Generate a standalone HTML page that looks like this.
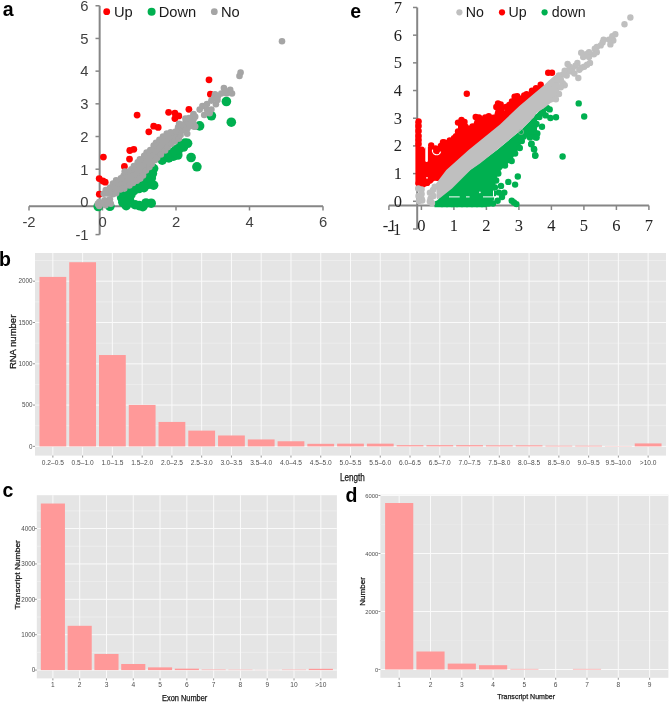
<!DOCTYPE html>
<html><head><meta charset="utf-8"><style>
html,body{margin:0;padding:0;background:#fff;width:669px;height:702px;overflow:hidden}
svg{display:block;font-family:'Liberation Sans', Arial, sans-serif}
</style></head><body>
<svg width="669" height="702" viewBox="0 0 669 702">
<rect x="35" y="253" width="631.00" height="202.60" fill="#E5E5E5"/>
<line x1="35" x2="666" y1="425.74" y2="425.74" stroke="#F2F2F2" stroke-width="0.6"/>
<line x1="35" x2="666" y1="384.45" y2="384.45" stroke="#F2F2F2" stroke-width="0.6"/>
<line x1="35" x2="666" y1="343.15" y2="343.15" stroke="#F2F2F2" stroke-width="0.6"/>
<line x1="35" x2="666" y1="301.85" y2="301.85" stroke="#F2F2F2" stroke-width="0.6"/>
<line x1="35" x2="666" y1="260.56" y2="260.56" stroke="#F2F2F2" stroke-width="0.6"/>
<line x1="35" x2="666" y1="446.39" y2="446.39" stroke="#FAFAFA" stroke-width="1"/>
<line x1="35" x2="666" y1="405.09" y2="405.09" stroke="#FAFAFA" stroke-width="1"/>
<line x1="35" x2="666" y1="363.80" y2="363.80" stroke="#FAFAFA" stroke-width="1"/>
<line x1="35" x2="666" y1="322.50" y2="322.50" stroke="#FAFAFA" stroke-width="1"/>
<line x1="35" x2="666" y1="281.21" y2="281.21" stroke="#FAFAFA" stroke-width="1"/>
<line x1="52.86" x2="52.86" y1="253" y2="455.6" stroke="#FAFAFA" stroke-width="1"/>
<line x1="82.62" x2="82.62" y1="253" y2="455.6" stroke="#FAFAFA" stroke-width="1"/>
<line x1="112.39" x2="112.39" y1="253" y2="455.6" stroke="#FAFAFA" stroke-width="1"/>
<line x1="142.15" x2="142.15" y1="253" y2="455.6" stroke="#FAFAFA" stroke-width="1"/>
<line x1="171.92" x2="171.92" y1="253" y2="455.6" stroke="#FAFAFA" stroke-width="1"/>
<line x1="201.68" x2="201.68" y1="253" y2="455.6" stroke="#FAFAFA" stroke-width="1"/>
<line x1="231.44" x2="231.44" y1="253" y2="455.6" stroke="#FAFAFA" stroke-width="1"/>
<line x1="261.21" x2="261.21" y1="253" y2="455.6" stroke="#FAFAFA" stroke-width="1"/>
<line x1="290.97" x2="290.97" y1="253" y2="455.6" stroke="#FAFAFA" stroke-width="1"/>
<line x1="320.74" x2="320.74" y1="253" y2="455.6" stroke="#FAFAFA" stroke-width="1"/>
<line x1="350.50" x2="350.50" y1="253" y2="455.6" stroke="#FAFAFA" stroke-width="1"/>
<line x1="380.26" x2="380.26" y1="253" y2="455.6" stroke="#FAFAFA" stroke-width="1"/>
<line x1="410.03" x2="410.03" y1="253" y2="455.6" stroke="#FAFAFA" stroke-width="1"/>
<line x1="439.79" x2="439.79" y1="253" y2="455.6" stroke="#FAFAFA" stroke-width="1"/>
<line x1="469.56" x2="469.56" y1="253" y2="455.6" stroke="#FAFAFA" stroke-width="1"/>
<line x1="499.32" x2="499.32" y1="253" y2="455.6" stroke="#FAFAFA" stroke-width="1"/>
<line x1="529.08" x2="529.08" y1="253" y2="455.6" stroke="#FAFAFA" stroke-width="1"/>
<line x1="558.85" x2="558.85" y1="253" y2="455.6" stroke="#FAFAFA" stroke-width="1"/>
<line x1="588.61" x2="588.61" y1="253" y2="455.6" stroke="#FAFAFA" stroke-width="1"/>
<line x1="618.38" x2="618.38" y1="253" y2="455.6" stroke="#FAFAFA" stroke-width="1"/>
<line x1="648.14" x2="648.14" y1="253" y2="455.6" stroke="#FAFAFA" stroke-width="1"/>
<rect x="39.46" y="276.91" width="26.79" height="169.48" fill="#FF9999"/>
<rect x="69.23" y="262.21" width="26.79" height="184.18" fill="#FF9999"/>
<rect x="98.99" y="355.04" width="26.79" height="91.35" fill="#FF9999"/>
<rect x="128.76" y="404.93" width="26.79" height="41.46" fill="#FF9999"/>
<rect x="158.52" y="421.94" width="26.79" height="24.45" fill="#FF9999"/>
<rect x="188.29" y="430.62" width="26.79" height="15.78" fill="#FF9999"/>
<rect x="218.05" y="435.49" width="26.79" height="10.90" fill="#FF9999"/>
<rect x="247.81" y="439.45" width="26.79" height="6.94" fill="#FF9999"/>
<rect x="277.58" y="441.27" width="26.79" height="5.12" fill="#FF9999"/>
<rect x="307.34" y="443.83" width="26.79" height="2.56" fill="#FF9999"/>
<rect x="337.11" y="443.67" width="26.79" height="2.73" fill="#FF9999"/>
<rect x="366.87" y="443.67" width="26.79" height="2.73" fill="#FF9999"/>
<rect x="396.63" y="445.15" width="26.79" height="1.24" fill="#FF9999"/>
<rect x="426.40" y="445.15" width="26.79" height="1.24" fill="#FF9999"/>
<rect x="456.16" y="445.15" width="26.79" height="1.24" fill="#FF9999"/>
<rect x="485.93" y="445.32" width="26.79" height="1.07" fill="#FF9999"/>
<rect x="515.69" y="445.32" width="26.79" height="1.07" fill="#FF9999"/>
<rect x="545.46" y="445.73" width="26.79" height="0.66" fill="#FF9999"/>
<rect x="575.22" y="445.73" width="26.79" height="0.66" fill="#FF9999"/>
<rect x="604.98" y="446.14" width="26.79" height="0.25" fill="#FF9999"/>
<rect x="634.75" y="443.42" width="26.79" height="2.97" fill="#FF9999"/>
<line x1="33" x2="35" y1="446.39" y2="446.39" stroke="#4d4d4d" stroke-width="0.6"/>
<text x="32.40" y="448.59" font-size="6.3" fill="#4d4d4d" text-anchor="end">0</text>
<line x1="33" x2="35" y1="405.09" y2="405.09" stroke="#4d4d4d" stroke-width="0.6"/>
<text x="32.40" y="407.29" font-size="6.3" fill="#4d4d4d" text-anchor="end">500</text>
<line x1="33" x2="35" y1="363.80" y2="363.80" stroke="#4d4d4d" stroke-width="0.6"/>
<text x="32.40" y="366.00" font-size="6.3" fill="#4d4d4d" text-anchor="end">1000</text>
<line x1="33" x2="35" y1="322.50" y2="322.50" stroke="#4d4d4d" stroke-width="0.6"/>
<text x="32.40" y="324.70" font-size="6.3" fill="#4d4d4d" text-anchor="end">1500</text>
<line x1="33" x2="35" y1="281.21" y2="281.21" stroke="#4d4d4d" stroke-width="0.6"/>
<text x="32.40" y="283.41" font-size="6.3" fill="#4d4d4d" text-anchor="end">2000</text>
<line x1="52.86" x2="52.86" y1="455.6" y2="457.6" stroke="#4d4d4d" stroke-width="0.6"/>
<text x="52.86" y="464.60" font-size="6.6" fill="#4d4d4d" text-anchor="middle">0.2&#8211;0.5</text>
<line x1="82.62" x2="82.62" y1="455.6" y2="457.6" stroke="#4d4d4d" stroke-width="0.6"/>
<text x="82.62" y="464.60" font-size="6.6" fill="#4d4d4d" text-anchor="middle">0.5&#8211;1.0</text>
<line x1="112.39" x2="112.39" y1="455.6" y2="457.6" stroke="#4d4d4d" stroke-width="0.6"/>
<text x="112.39" y="464.60" font-size="6.6" fill="#4d4d4d" text-anchor="middle">1.0&#8211;1.5</text>
<line x1="142.15" x2="142.15" y1="455.6" y2="457.6" stroke="#4d4d4d" stroke-width="0.6"/>
<text x="142.15" y="464.60" font-size="6.6" fill="#4d4d4d" text-anchor="middle">1.5&#8211;2.0</text>
<line x1="171.92" x2="171.92" y1="455.6" y2="457.6" stroke="#4d4d4d" stroke-width="0.6"/>
<text x="171.92" y="464.60" font-size="6.6" fill="#4d4d4d" text-anchor="middle">2.0&#8211;2.5</text>
<line x1="201.68" x2="201.68" y1="455.6" y2="457.6" stroke="#4d4d4d" stroke-width="0.6"/>
<text x="201.68" y="464.60" font-size="6.6" fill="#4d4d4d" text-anchor="middle">2.5&#8211;3.0</text>
<line x1="231.44" x2="231.44" y1="455.6" y2="457.6" stroke="#4d4d4d" stroke-width="0.6"/>
<text x="231.44" y="464.60" font-size="6.6" fill="#4d4d4d" text-anchor="middle">3.0&#8211;3.5</text>
<line x1="261.21" x2="261.21" y1="455.6" y2="457.6" stroke="#4d4d4d" stroke-width="0.6"/>
<text x="261.21" y="464.60" font-size="6.6" fill="#4d4d4d" text-anchor="middle">3.5&#8211;4.0</text>
<line x1="290.97" x2="290.97" y1="455.6" y2="457.6" stroke="#4d4d4d" stroke-width="0.6"/>
<text x="290.97" y="464.60" font-size="6.6" fill="#4d4d4d" text-anchor="middle">4.0&#8211;4.5</text>
<line x1="320.74" x2="320.74" y1="455.6" y2="457.6" stroke="#4d4d4d" stroke-width="0.6"/>
<text x="320.74" y="464.60" font-size="6.6" fill="#4d4d4d" text-anchor="middle">4.5&#8211;5.0</text>
<line x1="350.50" x2="350.50" y1="455.6" y2="457.6" stroke="#4d4d4d" stroke-width="0.6"/>
<text x="350.50" y="464.60" font-size="6.6" fill="#4d4d4d" text-anchor="middle">5.0&#8211;5.5</text>
<line x1="380.26" x2="380.26" y1="455.6" y2="457.6" stroke="#4d4d4d" stroke-width="0.6"/>
<text x="380.26" y="464.60" font-size="6.6" fill="#4d4d4d" text-anchor="middle">5.5&#8211;6.0</text>
<line x1="410.03" x2="410.03" y1="455.6" y2="457.6" stroke="#4d4d4d" stroke-width="0.6"/>
<text x="410.03" y="464.60" font-size="6.6" fill="#4d4d4d" text-anchor="middle">6.0&#8211;6.5</text>
<line x1="439.79" x2="439.79" y1="455.6" y2="457.6" stroke="#4d4d4d" stroke-width="0.6"/>
<text x="439.79" y="464.60" font-size="6.6" fill="#4d4d4d" text-anchor="middle">6.5&#8211;7.0</text>
<line x1="469.56" x2="469.56" y1="455.6" y2="457.6" stroke="#4d4d4d" stroke-width="0.6"/>
<text x="469.56" y="464.60" font-size="6.6" fill="#4d4d4d" text-anchor="middle">7.0&#8211;7.5</text>
<line x1="499.32" x2="499.32" y1="455.6" y2="457.6" stroke="#4d4d4d" stroke-width="0.6"/>
<text x="499.32" y="464.60" font-size="6.6" fill="#4d4d4d" text-anchor="middle">7.5&#8211;8.0</text>
<line x1="529.08" x2="529.08" y1="455.6" y2="457.6" stroke="#4d4d4d" stroke-width="0.6"/>
<text x="529.08" y="464.60" font-size="6.6" fill="#4d4d4d" text-anchor="middle">8.0&#8211;8.5</text>
<line x1="558.85" x2="558.85" y1="455.6" y2="457.6" stroke="#4d4d4d" stroke-width="0.6"/>
<text x="558.85" y="464.60" font-size="6.6" fill="#4d4d4d" text-anchor="middle">8.5&#8211;9.0</text>
<line x1="588.61" x2="588.61" y1="455.6" y2="457.6" stroke="#4d4d4d" stroke-width="0.6"/>
<text x="588.61" y="464.60" font-size="6.6" fill="#4d4d4d" text-anchor="middle">9.0&#8211;9.5</text>
<line x1="618.38" x2="618.38" y1="455.6" y2="457.6" stroke="#4d4d4d" stroke-width="0.6"/>
<text x="618.38" y="464.60" font-size="6.6" fill="#4d4d4d" text-anchor="middle">9.5&#8211;10.0</text>
<line x1="648.14" x2="648.14" y1="455.6" y2="457.6" stroke="#4d4d4d" stroke-width="0.6"/>
<text x="648.14" y="464.60" font-size="6.6" fill="#4d4d4d" text-anchor="middle">&gt;10.0</text>
<rect x="36.8" y="495.2" width="300.10" height="183.20" fill="#E5E5E5"/>
<line x1="36.8" x2="336.9" y1="652.38" y2="652.38" stroke="#F2F2F2" stroke-width="0.6"/>
<line x1="36.8" x2="336.9" y1="617.00" y2="617.00" stroke="#F2F2F2" stroke-width="0.6"/>
<line x1="36.8" x2="336.9" y1="581.62" y2="581.62" stroke="#F2F2F2" stroke-width="0.6"/>
<line x1="36.8" x2="336.9" y1="546.23" y2="546.23" stroke="#F2F2F2" stroke-width="0.6"/>
<line x1="36.8" x2="336.9" y1="510.85" y2="510.85" stroke="#F2F2F2" stroke-width="0.6"/>
<line x1="36.8" x2="336.9" y1="670.07" y2="670.07" stroke="#FAFAFA" stroke-width="1"/>
<line x1="36.8" x2="336.9" y1="634.69" y2="634.69" stroke="#FAFAFA" stroke-width="1"/>
<line x1="36.8" x2="336.9" y1="599.31" y2="599.31" stroke="#FAFAFA" stroke-width="1"/>
<line x1="36.8" x2="336.9" y1="563.93" y2="563.93" stroke="#FAFAFA" stroke-width="1"/>
<line x1="36.8" x2="336.9" y1="528.54" y2="528.54" stroke="#FAFAFA" stroke-width="1"/>
<line x1="52.88" x2="52.88" y1="495.2" y2="678.4" stroke="#FAFAFA" stroke-width="1"/>
<line x1="79.67" x2="79.67" y1="495.2" y2="678.4" stroke="#FAFAFA" stroke-width="1"/>
<line x1="106.47" x2="106.47" y1="495.2" y2="678.4" stroke="#FAFAFA" stroke-width="1"/>
<line x1="133.26" x2="133.26" y1="495.2" y2="678.4" stroke="#FAFAFA" stroke-width="1"/>
<line x1="160.06" x2="160.06" y1="495.2" y2="678.4" stroke="#FAFAFA" stroke-width="1"/>
<line x1="186.85" x2="186.85" y1="495.2" y2="678.4" stroke="#FAFAFA" stroke-width="1"/>
<line x1="213.64" x2="213.64" y1="495.2" y2="678.4" stroke="#FAFAFA" stroke-width="1"/>
<line x1="240.44" x2="240.44" y1="495.2" y2="678.4" stroke="#FAFAFA" stroke-width="1"/>
<line x1="267.23" x2="267.23" y1="495.2" y2="678.4" stroke="#FAFAFA" stroke-width="1"/>
<line x1="294.03" x2="294.03" y1="495.2" y2="678.4" stroke="#FAFAFA" stroke-width="1"/>
<line x1="320.82" x2="320.82" y1="495.2" y2="678.4" stroke="#FAFAFA" stroke-width="1"/>
<rect x="40.82" y="503.53" width="24.12" height="166.55" fill="#FF9999"/>
<rect x="67.61" y="625.81" width="24.12" height="44.26" fill="#FF9999"/>
<rect x="94.41" y="653.94" width="24.12" height="16.13" fill="#FF9999"/>
<rect x="121.20" y="663.99" width="24.12" height="6.09" fill="#FF9999"/>
<rect x="148.00" y="667.38" width="24.12" height="2.69" fill="#FF9999"/>
<rect x="174.79" y="668.66" width="24.12" height="1.42" fill="#FF9999"/>
<rect x="201.59" y="669.58" width="24.12" height="0.50" fill="#FF9999"/>
<rect x="228.38" y="669.72" width="24.12" height="0.35" fill="#FF9999"/>
<rect x="255.18" y="669.93" width="24.12" height="0.14" fill="#FF9999"/>
<rect x="281.97" y="669.65" width="24.12" height="0.42" fill="#FF9999"/>
<rect x="308.77" y="668.83" width="24.12" height="1.24" fill="#FF9999"/>
<line x1="34.8" x2="36.8" y1="670.07" y2="670.07" stroke="#4d4d4d" stroke-width="0.6"/>
<text x="35.30" y="672.27" font-size="6.3" fill="#4d4d4d" text-anchor="end">0</text>
<line x1="34.8" x2="36.8" y1="634.69" y2="634.69" stroke="#4d4d4d" stroke-width="0.6"/>
<text x="35.30" y="636.89" font-size="6.3" fill="#4d4d4d" text-anchor="end">1000</text>
<line x1="34.8" x2="36.8" y1="599.31" y2="599.31" stroke="#4d4d4d" stroke-width="0.6"/>
<text x="35.30" y="601.51" font-size="6.3" fill="#4d4d4d" text-anchor="end">2000</text>
<line x1="34.8" x2="36.8" y1="563.93" y2="563.93" stroke="#4d4d4d" stroke-width="0.6"/>
<text x="35.30" y="566.13" font-size="6.3" fill="#4d4d4d" text-anchor="end">3000</text>
<line x1="34.8" x2="36.8" y1="528.54" y2="528.54" stroke="#4d4d4d" stroke-width="0.6"/>
<text x="35.30" y="530.74" font-size="6.3" fill="#4d4d4d" text-anchor="end">4000</text>
<line x1="52.88" x2="52.88" y1="678.4" y2="680.4" stroke="#4d4d4d" stroke-width="0.6"/>
<text x="52.88" y="687.40" font-size="6.6" fill="#4d4d4d" text-anchor="middle">1</text>
<line x1="79.67" x2="79.67" y1="678.4" y2="680.4" stroke="#4d4d4d" stroke-width="0.6"/>
<text x="79.67" y="687.40" font-size="6.6" fill="#4d4d4d" text-anchor="middle">2</text>
<line x1="106.47" x2="106.47" y1="678.4" y2="680.4" stroke="#4d4d4d" stroke-width="0.6"/>
<text x="106.47" y="687.40" font-size="6.6" fill="#4d4d4d" text-anchor="middle">3</text>
<line x1="133.26" x2="133.26" y1="678.4" y2="680.4" stroke="#4d4d4d" stroke-width="0.6"/>
<text x="133.26" y="687.40" font-size="6.6" fill="#4d4d4d" text-anchor="middle">4</text>
<line x1="160.06" x2="160.06" y1="678.4" y2="680.4" stroke="#4d4d4d" stroke-width="0.6"/>
<text x="160.06" y="687.40" font-size="6.6" fill="#4d4d4d" text-anchor="middle">5</text>
<line x1="186.85" x2="186.85" y1="678.4" y2="680.4" stroke="#4d4d4d" stroke-width="0.6"/>
<text x="186.85" y="687.40" font-size="6.6" fill="#4d4d4d" text-anchor="middle">6</text>
<line x1="213.64" x2="213.64" y1="678.4" y2="680.4" stroke="#4d4d4d" stroke-width="0.6"/>
<text x="213.64" y="687.40" font-size="6.6" fill="#4d4d4d" text-anchor="middle">7</text>
<line x1="240.44" x2="240.44" y1="678.4" y2="680.4" stroke="#4d4d4d" stroke-width="0.6"/>
<text x="240.44" y="687.40" font-size="6.6" fill="#4d4d4d" text-anchor="middle">8</text>
<line x1="267.23" x2="267.23" y1="678.4" y2="680.4" stroke="#4d4d4d" stroke-width="0.6"/>
<text x="267.23" y="687.40" font-size="6.6" fill="#4d4d4d" text-anchor="middle">9</text>
<line x1="294.03" x2="294.03" y1="678.4" y2="680.4" stroke="#4d4d4d" stroke-width="0.6"/>
<text x="294.03" y="687.40" font-size="6.6" fill="#4d4d4d" text-anchor="middle">10</text>
<line x1="320.82" x2="320.82" y1="678.4" y2="680.4" stroke="#4d4d4d" stroke-width="0.6"/>
<text x="320.82" y="687.40" font-size="6.6" fill="#4d4d4d" text-anchor="middle">&gt;10</text>
<rect x="380.4" y="494.7" width="288.00" height="183.10" fill="#E5E5E5"/>
<line x1="380.4" x2="668.4" y1="640.48" y2="640.48" stroke="#EAEAEA" stroke-width="0.6"/>
<line x1="380.4" x2="668.4" y1="582.48" y2="582.48" stroke="#EAEAEA" stroke-width="0.6"/>
<line x1="380.4" x2="668.4" y1="524.48" y2="524.48" stroke="#EAEAEA" stroke-width="0.6"/>
<line x1="380.4" x2="668.4" y1="669.48" y2="669.48" stroke="#FAFAFA" stroke-width="1"/>
<line x1="380.4" x2="668.4" y1="611.48" y2="611.48" stroke="#FAFAFA" stroke-width="1"/>
<line x1="380.4" x2="668.4" y1="553.48" y2="553.48" stroke="#FAFAFA" stroke-width="1"/>
<line x1="380.4" x2="668.4" y1="495.48" y2="495.48" stroke="#FAFAFA" stroke-width="1"/>
<line x1="399.18" x2="399.18" y1="494.7" y2="677.8" stroke="#FAFAFA" stroke-width="1"/>
<line x1="430.49" x2="430.49" y1="494.7" y2="677.8" stroke="#FAFAFA" stroke-width="1"/>
<line x1="461.79" x2="461.79" y1="494.7" y2="677.8" stroke="#FAFAFA" stroke-width="1"/>
<line x1="493.10" x2="493.10" y1="494.7" y2="677.8" stroke="#FAFAFA" stroke-width="1"/>
<line x1="524.40" x2="524.40" y1="494.7" y2="677.8" stroke="#FAFAFA" stroke-width="1"/>
<line x1="555.70" x2="555.70" y1="494.7" y2="677.8" stroke="#FAFAFA" stroke-width="1"/>
<line x1="587.01" x2="587.01" y1="494.7" y2="677.8" stroke="#FAFAFA" stroke-width="1"/>
<line x1="618.31" x2="618.31" y1="494.7" y2="677.8" stroke="#FAFAFA" stroke-width="1"/>
<line x1="649.62" x2="649.62" y1="494.7" y2="677.8" stroke="#FAFAFA" stroke-width="1"/>
<rect x="385.10" y="503.02" width="28.17" height="166.45" fill="#FF9999"/>
<rect x="416.40" y="651.50" width="28.17" height="17.98" fill="#FF9999"/>
<rect x="447.70" y="663.59" width="28.17" height="5.89" fill="#FF9999"/>
<rect x="479.01" y="665.19" width="28.17" height="4.29" fill="#FF9999"/>
<rect x="510.31" y="668.90" width="28.17" height="0.58" fill="#FF9999"/>
<rect x="572.92" y="668.90" width="28.17" height="0.58" fill="#FF9999"/>
<line x1="378.4" x2="380.4" y1="669.48" y2="669.48" stroke="#4d4d4d" stroke-width="0.6"/>
<text x="378.20" y="671.68" font-size="5.8" fill="#4d4d4d" text-anchor="end">0</text>
<line x1="378.4" x2="380.4" y1="611.48" y2="611.48" stroke="#4d4d4d" stroke-width="0.6"/>
<text x="378.20" y="613.68" font-size="5.8" fill="#4d4d4d" text-anchor="end">2000</text>
<line x1="378.4" x2="380.4" y1="553.48" y2="553.48" stroke="#4d4d4d" stroke-width="0.6"/>
<text x="378.20" y="555.68" font-size="5.8" fill="#4d4d4d" text-anchor="end">4000</text>
<line x1="378.4" x2="380.4" y1="495.48" y2="495.48" stroke="#4d4d4d" stroke-width="0.6"/>
<text x="378.20" y="497.68" font-size="5.8" fill="#4d4d4d" text-anchor="end">6000</text>
<line x1="399.18" x2="399.18" y1="677.8" y2="679.8" stroke="#4d4d4d" stroke-width="0.6"/>
<text x="399.18" y="686.80" font-size="6.6" fill="#4d4d4d" text-anchor="middle">1</text>
<line x1="430.49" x2="430.49" y1="677.8" y2="679.8" stroke="#4d4d4d" stroke-width="0.6"/>
<text x="430.49" y="686.80" font-size="6.6" fill="#4d4d4d" text-anchor="middle">2</text>
<line x1="461.79" x2="461.79" y1="677.8" y2="679.8" stroke="#4d4d4d" stroke-width="0.6"/>
<text x="461.79" y="686.80" font-size="6.6" fill="#4d4d4d" text-anchor="middle">3</text>
<line x1="493.10" x2="493.10" y1="677.8" y2="679.8" stroke="#4d4d4d" stroke-width="0.6"/>
<text x="493.10" y="686.80" font-size="6.6" fill="#4d4d4d" text-anchor="middle">4</text>
<line x1="524.40" x2="524.40" y1="677.8" y2="679.8" stroke="#4d4d4d" stroke-width="0.6"/>
<text x="524.40" y="686.80" font-size="6.6" fill="#4d4d4d" text-anchor="middle">5</text>
<line x1="555.70" x2="555.70" y1="677.8" y2="679.8" stroke="#4d4d4d" stroke-width="0.6"/>
<text x="555.70" y="686.80" font-size="6.6" fill="#4d4d4d" text-anchor="middle">6</text>
<line x1="587.01" x2="587.01" y1="677.8" y2="679.8" stroke="#4d4d4d" stroke-width="0.6"/>
<text x="587.01" y="686.80" font-size="6.6" fill="#4d4d4d" text-anchor="middle">7</text>
<line x1="618.31" x2="618.31" y1="677.8" y2="679.8" stroke="#4d4d4d" stroke-width="0.6"/>
<text x="618.31" y="686.80" font-size="6.6" fill="#4d4d4d" text-anchor="middle">8</text>
<line x1="649.62" x2="649.62" y1="677.8" y2="679.8" stroke="#4d4d4d" stroke-width="0.6"/>
<text x="649.62" y="686.80" font-size="6.6" fill="#4d4d4d" text-anchor="middle">9</text>
<text x="339.9" y="480.5" font-size="10" fill="#161616" stroke="#161616" stroke-width="0.25" textLength="25.0" lengthAdjust="spacingAndGlyphs">Length</text>
<text x="162.0" y="700.5" font-size="8.2" fill="#161616" stroke="#161616" stroke-width="0.25" textLength="45.3" lengthAdjust="spacingAndGlyphs">Exon Number</text>
<text x="497.2" y="699" font-size="7.8" fill="#161616" stroke="#161616" stroke-width="0.25" textLength="57.9" lengthAdjust="spacingAndGlyphs">Transcript Number</text>
<text transform="translate(16.4,369.1) rotate(-90)" font-size="9.0" fill="#161616" stroke="#161616" stroke-width="0.25" textLength="54.4" lengthAdjust="spacingAndGlyphs">RNA number</text>
<text transform="translate(20.2,609.6) rotate(-90)" font-size="7.9" fill="#161616" stroke="#161616" stroke-width="0.25" textLength="69.5" lengthAdjust="spacingAndGlyphs">Transcript Number</text>
<text transform="translate(365.1,605.7) rotate(-90)" font-size="7.9" fill="#161616" stroke="#161616" stroke-width="0.25" textLength="28.7" lengthAdjust="spacingAndGlyphs">Number</text>
<text x="2.8" y="16.4" font-size="19.5" font-weight="bold" fill="#000">a</text>
<text x="350.2" y="18.4" font-size="19.5" font-weight="bold" fill="#000">e</text>
<text x="-0.9" y="265.8" font-size="19.5" font-weight="bold" fill="#000">b</text>
<text x="2.4" y="497" font-size="19.5" font-weight="bold" fill="#000">c</text>
<text x="345.6" y="501.9" font-size="19.5" font-weight="bold" fill="#000">d</text>
<line x1="99.65" x2="99.65" y1="5.8" y2="234.59" stroke="#868686" stroke-width="2"/>
<line x1="29.00" x2="323.00" y1="206.3" y2="206.3" stroke="#868686" stroke-width="2"/>
<line x1="95.5" x2="99.65" y1="234.59" y2="234.59" stroke="#868686" stroke-width="1.5"/>
<text x="88.6" y="239.89" font-size="14.8" fill="#404040" text-anchor="end">-1</text>
<line x1="95.5" x2="99.65" y1="201.90" y2="201.90" stroke="#868686" stroke-width="1.5"/>
<text x="88.6" y="207.20" font-size="14.8" fill="#404040" text-anchor="end">0</text>
<line x1="95.5" x2="99.65" y1="169.21" y2="169.21" stroke="#868686" stroke-width="1.5"/>
<text x="88.6" y="174.51" font-size="14.8" fill="#404040" text-anchor="end">1</text>
<line x1="95.5" x2="99.65" y1="136.52" y2="136.52" stroke="#868686" stroke-width="1.5"/>
<text x="88.6" y="141.82" font-size="14.8" fill="#404040" text-anchor="end">2</text>
<line x1="95.5" x2="99.65" y1="103.83" y2="103.83" stroke="#868686" stroke-width="1.5"/>
<text x="88.6" y="109.13" font-size="14.8" fill="#404040" text-anchor="end">3</text>
<line x1="95.5" x2="99.65" y1="71.14" y2="71.14" stroke="#868686" stroke-width="1.5"/>
<text x="88.6" y="76.44" font-size="14.8" fill="#404040" text-anchor="end">4</text>
<line x1="95.5" x2="99.65" y1="38.45" y2="38.45" stroke="#868686" stroke-width="1.5"/>
<text x="88.6" y="43.75" font-size="14.8" fill="#404040" text-anchor="end">5</text>
<line x1="95.5" x2="99.65" y1="5.76" y2="5.76" stroke="#868686" stroke-width="1.5"/>
<text x="88.6" y="11.06" font-size="14.8" fill="#404040" text-anchor="end">6</text>
<line x1="29.00" x2="29.00" y1="206.3" y2="210.5" stroke="#868686" stroke-width="1.5"/>
<text x="29.00" y="227.2" font-size="14.8" fill="#404040" text-anchor="middle">-2</text>
<line x1="102.50" x2="102.50" y1="206.3" y2="210.5" stroke="#868686" stroke-width="1.5"/>
<text x="102.50" y="227.2" font-size="14.8" fill="#404040" text-anchor="middle">0</text>
<line x1="176.00" x2="176.00" y1="206.3" y2="210.5" stroke="#868686" stroke-width="1.5"/>
<text x="176.00" y="227.2" font-size="14.8" fill="#404040" text-anchor="middle">2</text>
<line x1="249.50" x2="249.50" y1="206.3" y2="210.5" stroke="#868686" stroke-width="1.5"/>
<text x="249.50" y="227.2" font-size="14.8" fill="#404040" text-anchor="middle">4</text>
<line x1="323.00" x2="323.00" y1="206.3" y2="210.5" stroke="#868686" stroke-width="1.5"/>
<text x="323.00" y="227.2" font-size="14.8" fill="#404040" text-anchor="middle">6</text>
<line x1="417.2" x2="417.2" y1="7.5" y2="229" stroke="#868686" stroke-width="2"/>
<line x1="388.90" x2="648.90" y1="205.6" y2="205.6" stroke="#868686" stroke-width="2"/>
<line x1="413" x2="417.2" y1="228.99" y2="228.99" stroke="#868686" stroke-width="1.5"/>
<line x1="413" x2="417.2" y1="201.30" y2="201.30" stroke="#868686" stroke-width="1.5"/>
<line x1="413" x2="417.2" y1="173.61" y2="173.61" stroke="#868686" stroke-width="1.5"/>
<line x1="413" x2="417.2" y1="145.92" y2="145.92" stroke="#868686" stroke-width="1.5"/>
<line x1="413" x2="417.2" y1="118.23" y2="118.23" stroke="#868686" stroke-width="1.5"/>
<line x1="413" x2="417.2" y1="90.54" y2="90.54" stroke="#868686" stroke-width="1.5"/>
<line x1="413" x2="417.2" y1="62.85" y2="62.85" stroke="#868686" stroke-width="1.5"/>
<line x1="413" x2="417.2" y1="35.16" y2="35.16" stroke="#868686" stroke-width="1.5"/>
<line x1="413" x2="417.2" y1="7.47" y2="7.47" stroke="#868686" stroke-width="1.5"/>
<text x="402" y="206.80" font-size="16.5" fill="#222" text-anchor="end" font-family="'Liberation Serif', 'Times New Roman', serif">0</text>
<text x="402" y="179.11" font-size="16.5" fill="#222" text-anchor="end" font-family="'Liberation Serif', 'Times New Roman', serif">1</text>
<text x="402" y="151.42" font-size="16.5" fill="#222" text-anchor="end" font-family="'Liberation Serif', 'Times New Roman', serif">2</text>
<text x="402" y="123.73" font-size="16.5" fill="#222" text-anchor="end" font-family="'Liberation Serif', 'Times New Roman', serif">3</text>
<text x="402" y="96.04" font-size="16.5" fill="#222" text-anchor="end" font-family="'Liberation Serif', 'Times New Roman', serif">4</text>
<text x="402" y="68.35" font-size="16.5" fill="#222" text-anchor="end" font-family="'Liberation Serif', 'Times New Roman', serif">5</text>
<text x="402" y="40.66" font-size="16.5" fill="#222" text-anchor="end" font-family="'Liberation Serif', 'Times New Roman', serif">6</text>
<text x="402" y="12.97" font-size="16.5" fill="#222" text-anchor="end" font-family="'Liberation Serif', 'Times New Roman', serif">7</text>
<text x="401.3" y="235" font-size="16.5" fill="#222" text-anchor="end" font-family="'Liberation Serif', 'Times New Roman', serif">-1</text>
<line x1="388.90" x2="388.90" y1="205.6" y2="210" stroke="#868686" stroke-width="1.5"/>
<text x="389.70" y="230.9" font-size="16.5" fill="#222" text-anchor="middle" font-family="'Liberation Serif', 'Times New Roman', serif">-1</text>
<line x1="421.40" x2="421.40" y1="205.6" y2="210" stroke="#868686" stroke-width="1.5"/>
<text x="421.40" y="230.9" font-size="16.5" fill="#222" text-anchor="middle" font-family="'Liberation Serif', 'Times New Roman', serif">0</text>
<line x1="453.90" x2="453.90" y1="205.6" y2="210" stroke="#868686" stroke-width="1.5"/>
<text x="453.90" y="230.9" font-size="16.5" fill="#222" text-anchor="middle" font-family="'Liberation Serif', 'Times New Roman', serif">1</text>
<line x1="486.40" x2="486.40" y1="205.6" y2="210" stroke="#868686" stroke-width="1.5"/>
<text x="486.40" y="230.9" font-size="16.5" fill="#222" text-anchor="middle" font-family="'Liberation Serif', 'Times New Roman', serif">2</text>
<line x1="518.90" x2="518.90" y1="205.6" y2="210" stroke="#868686" stroke-width="1.5"/>
<text x="518.90" y="230.9" font-size="16.5" fill="#222" text-anchor="middle" font-family="'Liberation Serif', 'Times New Roman', serif">3</text>
<line x1="551.40" x2="551.40" y1="205.6" y2="210" stroke="#868686" stroke-width="1.5"/>
<text x="551.40" y="230.9" font-size="16.5" fill="#222" text-anchor="middle" font-family="'Liberation Serif', 'Times New Roman', serif">4</text>
<line x1="583.90" x2="583.90" y1="205.6" y2="210" stroke="#868686" stroke-width="1.5"/>
<text x="583.90" y="230.9" font-size="16.5" fill="#222" text-anchor="middle" font-family="'Liberation Serif', 'Times New Roman', serif">5</text>
<line x1="616.40" x2="616.40" y1="205.6" y2="210" stroke="#868686" stroke-width="1.5"/>
<text x="616.40" y="230.9" font-size="16.5" fill="#222" text-anchor="middle" font-family="'Liberation Serif', 'Times New Roman', serif">6</text>
<line x1="648.90" x2="648.90" y1="205.6" y2="210" stroke="#868686" stroke-width="1.5"/>
<text x="648.90" y="230.9" font-size="16.5" fill="#222" text-anchor="middle" font-family="'Liberation Serif', 'Times New Roman', serif">7</text>
<circle cx="99.3" cy="194.2" r="3.4" fill="#FF0000"/>
<circle cx="99.2" cy="178.6" r="3.4" fill="#FF0000"/>
<circle cx="102.8" cy="181.0" r="3.4" fill="#FF0000"/>
<circle cx="105.2" cy="182.2" r="3.4" fill="#FF0000"/>
<circle cx="103.4" cy="157.1" r="3.4" fill="#FF0000"/>
<circle cx="124.4" cy="166.4" r="3.4" fill="#FF0000"/>
<circle cx="129.5" cy="159.1" r="3.4" fill="#FF0000"/>
<circle cx="129.8" cy="150.5" r="3.4" fill="#FF0000"/>
<circle cx="133.8" cy="149.3" r="3.4" fill="#FF0000"/>
<circle cx="137.1" cy="115.1" r="3.4" fill="#FF0000"/>
<circle cx="148.8" cy="131.8" r="3.4" fill="#FF0000"/>
<circle cx="153.7" cy="126.2" r="3.4" fill="#FF0000"/>
<circle cx="158.2" cy="127.4" r="3.4" fill="#FF0000"/>
<circle cx="168.6" cy="112.3" r="3.4" fill="#FF0000"/>
<circle cx="174.9" cy="113.2" r="3.4" fill="#FF0000"/>
<circle cx="178.8" cy="115.9" r="3.4" fill="#FF0000"/>
<circle cx="174.9" cy="118.6" r="3.4" fill="#FF0000"/>
<circle cx="188.9" cy="109.3" r="3.4" fill="#FF0000"/>
<circle cx="209.0" cy="79.8" r="3.4" fill="#FF0000"/>
<circle cx="210.4" cy="94.2" r="3.4" fill="#FF0000"/>
<polygon points="122.4,192.0 121.8,199.8 122.7,203.2 124.9,205.4 125.8,205.7 127.3,205.0 129.9,200.4 130.4,198.2 130.1,195.5 130.0,195.1 130.1,194.6 130.1,194.2 130.2,193.7 130.4,193.3 130.6,192.9 130.8,192.5 131.1,192.1 131.4,191.7 131.7,191.4 132.1,191.2 132.5,190.9 132.9,190.8 133.4,190.6 138.5,189.2 142.9,187.4 146.8,185.0 148.8,183.5 151.1,178.7 151.7,174.4 151.8,173.9 151.9,173.5 152.1,173.1 152.3,172.7 154.4,169.1 143.2,180.2 142.8,180.6 142.3,180.9 132.3,186.9 132.0,187.1 122.7,191.7 122.4,192.0" fill="#00B050" />
<circle cx="121.9" cy="192.1" r="4.8" fill="#00B050"/>
<circle cx="121.7" cy="197.8" r="4.8" fill="#00B050"/>
<circle cx="122.9" cy="202.3" r="4.8" fill="#00B050"/>
<circle cx="126.2" cy="205.7" r="4.8" fill="#00B050"/>
<circle cx="129.5" cy="199.8" r="4.8" fill="#00B050"/>
<circle cx="130.9" cy="194.7" r="4.8" fill="#00B050"/>
<circle cx="133.9" cy="190.6" r="4.8" fill="#00B050"/>
<circle cx="138.9" cy="188.5" r="4.8" fill="#00B050"/>
<circle cx="144.0" cy="187.6" r="4.8" fill="#00B050"/>
<circle cx="148.5" cy="184.3" r="4.8" fill="#00B050"/>
<circle cx="151.3" cy="178.1" r="4.8" fill="#00B050"/>
<circle cx="152.4" cy="173.6" r="4.8" fill="#00B050"/>
<circle cx="153.6" cy="168.6" r="4.8" fill="#00B050"/>
<circle cx="150.7" cy="173.4" r="4.8" fill="#00B050"/>
<circle cx="146.5" cy="178.1" r="4.8" fill="#00B050"/>
<circle cx="142.3" cy="181.9" r="4.8" fill="#00B050"/>
<circle cx="137.0" cy="184.6" r="4.8" fill="#00B050"/>
<circle cx="132.2" cy="187.7" r="4.8" fill="#00B050"/>
<circle cx="128.0" cy="188.7" r="4.8" fill="#00B050"/>
<polygon points="162.8,160.6 165.0,159.7 169.8,157.0 170.1,156.8 170.5,156.7 170.9,156.6 171.3,156.5 171.7,156.4 172.2,156.4 177.0,156.6 177.9,156.2 177.7,152.6 177.8,152.2 177.8,151.7 177.9,151.3 178.1,150.8 178.2,150.4 178.5,150.0 178.7,149.7 179.0,149.3 179.4,149.0 179.7,148.7 183.4,146.2 183.6,146.1 186.4,144.4 187.6,141.7 187.3,140.4 186.8,140.2 182.9,143.5 182.6,143.7 172.9,150.5 162.8,160.6" fill="#00B050" />
<circle cx="162.2" cy="160.1" r="4.8" fill="#00B050"/>
<circle cx="168.8" cy="157.9" r="4.8" fill="#00B050"/>
<circle cx="173.5" cy="156.1" r="4.8" fill="#00B050"/>
<circle cx="177.8" cy="155.0" r="4.8" fill="#00B050"/>
<circle cx="178.5" cy="149.8" r="4.8" fill="#00B050"/>
<circle cx="183.5" cy="147.0" r="4.8" fill="#00B050"/>
<circle cx="187.6" cy="143.3" r="4.8" fill="#00B050"/>
<circle cx="185.1" cy="143.1" r="4.8" fill="#00B050"/>
<circle cx="180.3" cy="145.0" r="4.8" fill="#00B050"/>
<circle cx="175.9" cy="149.7" r="4.8" fill="#00B050"/>
<circle cx="171.6" cy="152.7" r="4.8" fill="#00B050"/>
<circle cx="167.3" cy="156.1" r="4.8" fill="#00B050"/>
<circle cx="98.2" cy="206.5" r="4.8" fill="#00B050"/>
<circle cx="109.9" cy="206.3" r="4.8" fill="#00B050"/>
<circle cx="139.2" cy="205.6" r="4.8" fill="#00B050"/>
<circle cx="142.8" cy="206.7" r="4.8" fill="#00B050"/>
<circle cx="151.2" cy="203.2" r="4.8" fill="#00B050"/>
<circle cx="135.0" cy="204.7" r="4.8" fill="#00B050"/>
<circle cx="146.0" cy="203.0" r="4.8" fill="#00B050"/>
<circle cx="153.6" cy="185.2" r="4.8" fill="#00B050"/>
<circle cx="191.1" cy="157.5" r="4.8" fill="#00B050"/>
<circle cx="196.9" cy="166.8" r="4.8" fill="#00B050"/>
<circle cx="199.6" cy="125.9" r="4.8" fill="#00B050"/>
<circle cx="211.4" cy="115.8" r="4.8" fill="#00B050"/>
<circle cx="226.4" cy="101.5" r="4.8" fill="#00B050"/>
<circle cx="231.3" cy="122.2" r="4.8" fill="#00B050"/>
<polygon points="103.2,193.7 106.3,194.3 112.1,193.4 112.3,193.4 116.6,193.0 118.3,191.3 118.5,191.1 118.7,190.9 118.9,190.8 119.2,190.7 125.6,187.7 130.4,185.3 136.0,181.6 145.7,171.8 149.6,167.5 153.5,162.6 157.5,157.5 157.8,157.2 167.4,147.6 172.1,142.8 172.3,142.6 172.6,142.4 172.9,142.2 177.0,140.1 180.0,136.1 182.3,131.6 182.5,131.3 182.7,131.0 182.9,130.8 183.1,130.6 183.4,130.4 187.0,128.1 187.3,127.9 187.7,127.7 193.6,125.7 194.4,118.0 194.2,115.8 190.4,118.3 190.4,118.3 185.9,121.2 180.3,126.2 177.4,129.7 177.2,129.9 177.0,130.1 176.8,130.3 176.6,130.4 176.3,130.5 176.1,130.6 171.1,132.4 170.9,132.5 166.6,133.8 162.1,137.8 161.9,138.0 158.1,140.8 150.3,149.6 150.2,149.7 140.3,159.7 136.3,164.1 136.2,164.2 132.2,168.2 132.1,168.4 128.1,171.9 128.0,171.9 124.5,174.9 124.5,174.9 120.9,177.9 120.7,178.1 117.2,180.5 112.0,184.9 107.7,188.7 103.3,193.6 103.2,193.7 103.2,193.7" fill="#A5A5A5" />
<circle cx="103.7" cy="193.8" r="3.3" fill="#A5A5A5"/>
<circle cx="107.4" cy="193.4" r="3.3" fill="#A5A5A5"/>
<circle cx="112.9" cy="194.2" r="3.3" fill="#A5A5A5"/>
<circle cx="116.1" cy="193.3" r="3.3" fill="#A5A5A5"/>
<circle cx="120.3" cy="189.5" r="3.3" fill="#A5A5A5"/>
<circle cx="124.3" cy="188.6" r="3.3" fill="#A5A5A5"/>
<circle cx="129.4" cy="185.4" r="3.3" fill="#A5A5A5"/>
<circle cx="132.9" cy="183.0" r="3.3" fill="#A5A5A5"/>
<circle cx="136.8" cy="180.8" r="3.3" fill="#A5A5A5"/>
<circle cx="140.3" cy="178.6" r="3.3" fill="#A5A5A5"/>
<circle cx="143.0" cy="175.4" r="3.3" fill="#A5A5A5"/>
<circle cx="145.9" cy="170.6" r="3.3" fill="#A5A5A5"/>
<circle cx="149.4" cy="167.1" r="3.3" fill="#A5A5A5"/>
<circle cx="151.7" cy="164.1" r="3.3" fill="#A5A5A5"/>
<circle cx="155.2" cy="160.1" r="3.3" fill="#A5A5A5"/>
<circle cx="157.2" cy="157.7" r="3.3" fill="#A5A5A5"/>
<circle cx="160.9" cy="154.5" r="3.3" fill="#A5A5A5"/>
<circle cx="165.1" cy="150.4" r="3.3" fill="#A5A5A5"/>
<circle cx="167.6" cy="147.3" r="3.3" fill="#A5A5A5"/>
<circle cx="171.1" cy="144.1" r="3.3" fill="#A5A5A5"/>
<circle cx="174.7" cy="141.5" r="3.3" fill="#A5A5A5"/>
<circle cx="178.9" cy="138.6" r="3.3" fill="#A5A5A5"/>
<circle cx="180.6" cy="135.1" r="3.3" fill="#A5A5A5"/>
<circle cx="182.5" cy="130.4" r="3.3" fill="#A5A5A5"/>
<circle cx="187.5" cy="128.3" r="3.3" fill="#A5A5A5"/>
<circle cx="191.1" cy="125.8" r="3.3" fill="#A5A5A5"/>
<circle cx="193.6" cy="123.9" r="3.3" fill="#A5A5A5"/>
<circle cx="193.5" cy="119.4" r="3.3" fill="#A5A5A5"/>
<circle cx="193.4" cy="115.8" r="3.3" fill="#A5A5A5"/>
<circle cx="189.5" cy="119.0" r="3.3" fill="#A5A5A5"/>
<circle cx="185.8" cy="121.4" r="3.3" fill="#A5A5A5"/>
<circle cx="182.3" cy="125.0" r="3.3" fill="#A5A5A5"/>
<circle cx="178.1" cy="127.2" r="3.3" fill="#A5A5A5"/>
<circle cx="175.7" cy="131.6" r="3.3" fill="#A5A5A5"/>
<circle cx="170.7" cy="132.4" r="3.3" fill="#A5A5A5"/>
<circle cx="166.8" cy="133.5" r="3.3" fill="#A5A5A5"/>
<circle cx="163.0" cy="136.5" r="3.3" fill="#A5A5A5"/>
<circle cx="159.4" cy="139.8" r="3.3" fill="#A5A5A5"/>
<circle cx="156.0" cy="142.7" r="3.3" fill="#A5A5A5"/>
<circle cx="153.7" cy="145.5" r="3.3" fill="#A5A5A5"/>
<circle cx="150.3" cy="150.1" r="3.3" fill="#A5A5A5"/>
<circle cx="146.6" cy="152.6" r="3.3" fill="#A5A5A5"/>
<circle cx="144.2" cy="155.8" r="3.3" fill="#A5A5A5"/>
<circle cx="139.9" cy="159.4" r="3.3" fill="#A5A5A5"/>
<circle cx="137.7" cy="162.3" r="3.3" fill="#A5A5A5"/>
<circle cx="133.9" cy="166.0" r="3.3" fill="#A5A5A5"/>
<circle cx="131.4" cy="169.3" r="3.3" fill="#A5A5A5"/>
<circle cx="127.9" cy="171.9" r="3.3" fill="#A5A5A5"/>
<circle cx="123.6" cy="175.7" r="3.3" fill="#A5A5A5"/>
<circle cx="120.9" cy="178.3" r="3.3" fill="#A5A5A5"/>
<circle cx="116.1" cy="180.4" r="3.3" fill="#A5A5A5"/>
<circle cx="113.0" cy="183.5" r="3.3" fill="#A5A5A5"/>
<circle cx="110.0" cy="187.6" r="3.3" fill="#A5A5A5"/>
<circle cx="105.8" cy="190.0" r="3.3" fill="#A5A5A5"/>
<circle cx="99.2" cy="202.0" r="3.3" fill="#A5A5A5"/>
<circle cx="104.6" cy="200.2" r="3.3" fill="#A5A5A5"/>
<circle cx="109.9" cy="199.3" r="3.3" fill="#A5A5A5"/>
<circle cx="99.2" cy="206.0" r="3.3" fill="#A5A5A5"/>
<circle cx="105.5" cy="205.3" r="3.3" fill="#A5A5A5"/>
<circle cx="110.8" cy="203.8" r="3.3" fill="#A5A5A5"/>
<circle cx="97.8" cy="204.0" r="3.3" fill="#A5A5A5"/>
<circle cx="102.0" cy="203.0" r="3.3" fill="#A5A5A5"/>
<circle cx="107.5" cy="202.5" r="3.3" fill="#A5A5A5"/>
<circle cx="124.7" cy="171.5" r="3.3" fill="#A5A5A5"/>
<circle cx="179.1" cy="123.8" r="3.3" fill="#A5A5A5"/>
<circle cx="194.2" cy="126.7" r="3.3" fill="#A5A5A5"/>
<circle cx="282.0" cy="41.3" r="3.3" fill="#A5A5A5"/>
<circle cx="240.6" cy="72.5" r="3.3" fill="#A5A5A5"/>
<circle cx="239.5" cy="76.0" r="3.3" fill="#A5A5A5"/>
<circle cx="215.0" cy="94.3" r="3.3" fill="#A5A5A5"/>
<circle cx="214.1" cy="97.9" r="3.3" fill="#A5A5A5"/>
<circle cx="215.9" cy="104.2" r="3.3" fill="#A5A5A5"/>
<circle cx="211.4" cy="100.6" r="3.3" fill="#A5A5A5"/>
<circle cx="202.4" cy="106.0" r="3.3" fill="#A5A5A5"/>
<circle cx="199.7" cy="109.6" r="3.3" fill="#A5A5A5"/>
<circle cx="204.2" cy="115.0" r="3.3" fill="#A5A5A5"/>
<circle cx="206.9" cy="109.6" r="3.3" fill="#A5A5A5"/>
<circle cx="211.4" cy="109.6" r="3.3" fill="#A5A5A5"/>
<circle cx="209.6" cy="113.2" r="3.3" fill="#A5A5A5"/>
<circle cx="217.5" cy="100.0" r="3.3" fill="#A5A5A5"/>
<circle cx="207.0" cy="104.0" r="3.3" fill="#A5A5A5"/>
<circle cx="218.0" cy="96.0" r="3.3" fill="#A5A5A5"/>
<circle cx="223.9" cy="88.1" r="3.3" fill="#A5A5A5"/>
<circle cx="230.2" cy="89.9" r="3.3" fill="#A5A5A5"/>
<circle cx="232.0" cy="93.5" r="3.3" fill="#A5A5A5"/>
<circle cx="221.3" cy="93.5" r="3.3" fill="#A5A5A5"/>
<circle cx="226.6" cy="93.5" r="3.3" fill="#A5A5A5"/>
<circle cx="229.0" cy="92.0" r="3.3" fill="#A5A5A5"/>
<circle cx="225.0" cy="91.0" r="3.3" fill="#A5A5A5"/>
<circle cx="193.5" cy="114.1" r="3.3" fill="#A5A5A5"/>
<circle cx="195.2" cy="116.8" r="3.3" fill="#A5A5A5"/>
<circle cx="185.4" cy="118.6" r="3.3" fill="#A5A5A5"/>
<circle cx="191.7" cy="121.3" r="3.3" fill="#A5A5A5"/>
<circle cx="195.2" cy="126.6" r="3.3" fill="#A5A5A5"/>
<circle cx="181.8" cy="124.8" r="3.3" fill="#A5A5A5"/>
<circle cx="185.4" cy="130.2" r="3.3" fill="#A5A5A5"/>
<circle cx="187.2" cy="133.8" r="3.3" fill="#A5A5A5"/>
<circle cx="189.0" cy="118.0" r="3.3" fill="#A5A5A5"/>
<circle cx="190.0" cy="126.0" r="3.3" fill="#A5A5A5"/>
<polygon points="415.4,121.5 418.6,121.5 418.6,126.0 418.6,131.0 418.6,136.0 418.6,140.0 418.6,144.0 421.6,149.8 424.3,152.0 427.8,150.0 431.2,145.5 435.5,148.5 440.9,146.0 443.0,142.2 444.5,142.5 449.8,140.4 454.0,138.3 456.0,136.2 458.0,131.5 458.0,122.6 461.5,120.0 464.5,122.0 465.5,126.8 469.0,128.7 472.5,126.5 475.7,117.0 479.0,117.5 482.1,119.7 485.2,117.5 488.8,116.3 493.5,117.7 496.3,107.0 498.0,103.5 500.7,104.5 501.2,109.0 503.0,113.5 506.0,107.0 509.3,105.0 511.9,101.5 514.6,96.8 517.2,96.2 519.3,98.5 521.3,99.5 524.2,95.5 526.6,94.1 532.0,90.8 536.0,88.2 540.6,87.4 543.6,88.7 546.0,96.0 470.0,156.0 441.0,181.0 437.1,181.0 434.7,180.8 429.9,183.8 427.0,186.1 422.2,187.9 418.6,186.7 415.4,184.3" fill="#FF0000" />
<circle cx="418.6" cy="121.5" r="3.2" fill="#FF0000"/>
<circle cx="418.6" cy="126.0" r="3.2" fill="#FF0000"/>
<circle cx="418.6" cy="131.0" r="3.2" fill="#FF0000"/>
<circle cx="418.6" cy="136.0" r="3.2" fill="#FF0000"/>
<circle cx="418.6" cy="140.0" r="3.2" fill="#FF0000"/>
<circle cx="418.6" cy="144.0" r="3.2" fill="#FF0000"/>
<circle cx="421.6" cy="149.8" r="3.2" fill="#FF0000"/>
<circle cx="424.3" cy="152.0" r="3.2" fill="#FF0000"/>
<circle cx="427.8" cy="150.0" r="3.2" fill="#FF0000"/>
<circle cx="431.2" cy="145.5" r="3.2" fill="#FF0000"/>
<circle cx="435.5" cy="148.5" r="3.2" fill="#FF0000"/>
<circle cx="440.9" cy="146.0" r="3.2" fill="#FF0000"/>
<circle cx="443.0" cy="142.2" r="3.2" fill="#FF0000"/>
<circle cx="444.5" cy="142.5" r="3.2" fill="#FF0000"/>
<circle cx="449.8" cy="140.4" r="3.2" fill="#FF0000"/>
<circle cx="454.0" cy="138.3" r="3.2" fill="#FF0000"/>
<circle cx="456.0" cy="136.2" r="3.2" fill="#FF0000"/>
<circle cx="458.0" cy="131.5" r="3.2" fill="#FF0000"/>
<circle cx="458.0" cy="122.6" r="3.2" fill="#FF0000"/>
<circle cx="461.5" cy="120.0" r="3.2" fill="#FF0000"/>
<circle cx="464.5" cy="122.0" r="3.2" fill="#FF0000"/>
<circle cx="465.5" cy="126.8" r="3.2" fill="#FF0000"/>
<circle cx="469.0" cy="128.7" r="3.2" fill="#FF0000"/>
<circle cx="472.5" cy="126.5" r="3.2" fill="#FF0000"/>
<circle cx="475.7" cy="117.0" r="3.2" fill="#FF0000"/>
<circle cx="479.0" cy="117.5" r="3.2" fill="#FF0000"/>
<circle cx="482.1" cy="119.7" r="3.2" fill="#FF0000"/>
<circle cx="485.2" cy="117.5" r="3.2" fill="#FF0000"/>
<circle cx="488.8" cy="116.3" r="3.2" fill="#FF0000"/>
<circle cx="493.5" cy="117.7" r="3.2" fill="#FF0000"/>
<circle cx="496.3" cy="107.0" r="3.2" fill="#FF0000"/>
<circle cx="498.0" cy="103.5" r="3.2" fill="#FF0000"/>
<circle cx="500.7" cy="104.5" r="3.2" fill="#FF0000"/>
<circle cx="501.2" cy="109.0" r="3.2" fill="#FF0000"/>
<circle cx="503.0" cy="113.5" r="3.2" fill="#FF0000"/>
<circle cx="506.0" cy="107.0" r="3.2" fill="#FF0000"/>
<circle cx="509.3" cy="105.0" r="3.2" fill="#FF0000"/>
<circle cx="511.9" cy="101.5" r="3.2" fill="#FF0000"/>
<circle cx="514.6" cy="96.8" r="3.2" fill="#FF0000"/>
<circle cx="517.2" cy="96.2" r="3.2" fill="#FF0000"/>
<circle cx="519.3" cy="98.5" r="3.2" fill="#FF0000"/>
<circle cx="521.3" cy="99.5" r="3.2" fill="#FF0000"/>
<circle cx="524.2" cy="95.5" r="3.2" fill="#FF0000"/>
<circle cx="526.6" cy="94.1" r="3.2" fill="#FF0000"/>
<circle cx="532.0" cy="90.8" r="3.2" fill="#FF0000"/>
<circle cx="536.0" cy="88.2" r="3.2" fill="#FF0000"/>
<circle cx="540.6" cy="87.4" r="3.2" fill="#FF0000"/>
<circle cx="543.6" cy="88.7" r="3.2" fill="#FF0000"/>
<circle cx="418.6" cy="183.5" r="3.2" fill="#FF0000"/>
<circle cx="422.2" cy="184.7" r="3.2" fill="#FF0000"/>
<circle cx="427.0" cy="182.9" r="3.2" fill="#FF0000"/>
<circle cx="429.9" cy="180.6" r="3.2" fill="#FF0000"/>
<circle cx="466.8" cy="93.7" r="3.2" fill="#FF0000"/>
<circle cx="548.2" cy="72.8" r="3.2" fill="#FF0000"/>
<circle cx="552.0" cy="72.8" r="3.2" fill="#FF0000"/>
<circle cx="540.7" cy="84.7" r="3.2" fill="#FF0000"/>
<path d="M432.6,149.6 A4.1,4.1 0 0 0 440.6,151.6" stroke="#fff" stroke-width="1.2" fill="none"/>
<line x1="426.6" y1="146" x2="426.6" y2="160.8" stroke="#fff" stroke-width="2.6" stroke-linecap="round"/>
<circle cx="427.0" cy="177.8" r="0.9" fill="#fff"/>
<polygon points="434.5,207.3 434.5,203.5 445.0,192.0 470.0,170.0 497.0,150.0 521.0,130.0 533.0,118.0 540.0,110.0 548.0,106.0 547.0,108.0 543.0,112.5 537.5,117.0 536.5,124.0 537.3,133.5 536.6,137.5 530.0,137.5 523.8,136.5 521.8,141.0 519.8,148.0 515.1,153.5 511.7,161.0 505.0,165.5 498.3,173.5 496.2,180.5 494.9,187.5 493.5,193.5 491.0,198.0 489.0,203.5 486.0,207.3" fill="#00B050" />
<circle cx="547.0" cy="108.0" r="3.2" fill="#00B050"/>
<circle cx="543.0" cy="112.5" r="3.2" fill="#00B050"/>
<circle cx="537.5" cy="117.0" r="3.2" fill="#00B050"/>
<circle cx="536.5" cy="124.0" r="3.2" fill="#00B050"/>
<circle cx="537.3" cy="133.5" r="3.2" fill="#00B050"/>
<circle cx="536.6" cy="137.5" r="3.2" fill="#00B050"/>
<circle cx="530.0" cy="137.5" r="3.2" fill="#00B050"/>
<circle cx="523.8" cy="136.5" r="3.2" fill="#00B050"/>
<circle cx="521.8" cy="141.0" r="3.2" fill="#00B050"/>
<circle cx="519.8" cy="148.0" r="3.2" fill="#00B050"/>
<circle cx="515.1" cy="153.5" r="3.2" fill="#00B050"/>
<circle cx="511.7" cy="161.0" r="3.2" fill="#00B050"/>
<circle cx="505.0" cy="165.5" r="3.2" fill="#00B050"/>
<circle cx="498.3" cy="173.5" r="3.2" fill="#00B050"/>
<circle cx="496.2" cy="180.5" r="3.2" fill="#00B050"/>
<circle cx="494.9" cy="187.5" r="3.2" fill="#00B050"/>
<circle cx="493.5" cy="193.5" r="3.2" fill="#00B050"/>
<circle cx="491.0" cy="198.0" r="3.2" fill="#00B050"/>
<circle cx="489.0" cy="203.5" r="3.2" fill="#00B050"/>
<circle cx="437.5" cy="203.8" r="3.2" fill="#00B050"/>
<circle cx="442.0" cy="204.0" r="3.2" fill="#00B050"/>
<circle cx="447.0" cy="204.0" r="3.2" fill="#00B050"/>
<circle cx="452.0" cy="204.0" r="3.2" fill="#00B050"/>
<circle cx="457.0" cy="204.0" r="3.2" fill="#00B050"/>
<circle cx="462.0" cy="204.0" r="3.2" fill="#00B050"/>
<circle cx="467.0" cy="204.0" r="3.2" fill="#00B050"/>
<circle cx="472.0" cy="204.0" r="3.2" fill="#00B050"/>
<circle cx="477.0" cy="204.0" r="3.2" fill="#00B050"/>
<circle cx="482.0" cy="204.0" r="3.2" fill="#00B050"/>
<circle cx="486.5" cy="203.6" r="3.2" fill="#00B050"/>
<circle cx="578.7" cy="103.4" r="3.2" fill="#00B050"/>
<circle cx="584.2" cy="116.5" r="3.2" fill="#00B050"/>
<circle cx="562.6" cy="156.5" r="3.2" fill="#00B050"/>
<circle cx="542.6" cy="113.3" r="3.2" fill="#00B050"/>
<circle cx="549.7" cy="109.4" r="3.2" fill="#00B050"/>
<circle cx="556.0" cy="117.3" r="3.2" fill="#00B050"/>
<circle cx="550.4" cy="118.0" r="3.2" fill="#00B050"/>
<circle cx="545.7" cy="115.4" r="3.2" fill="#00B050"/>
<circle cx="539.4" cy="117.0" r="3.2" fill="#00B050"/>
<circle cx="542.0" cy="126.8" r="3.2" fill="#00B050"/>
<circle cx="531.2" cy="144.2" r="3.2" fill="#00B050"/>
<circle cx="533.9" cy="148.9" r="3.2" fill="#00B050"/>
<circle cx="535.3" cy="155.7" r="3.2" fill="#00B050"/>
<circle cx="533.7" cy="121.0" r="3.2" fill="#00B050"/>
<circle cx="534.2" cy="126.4" r="3.2" fill="#00B050"/>
<circle cx="534.2" cy="131.6" r="3.2" fill="#00B050"/>
<circle cx="535.8" cy="137.4" r="3.2" fill="#00B050"/>
<circle cx="531.6" cy="143.7" r="3.2" fill="#00B050"/>
<circle cx="534.2" cy="149.4" r="3.2" fill="#00B050"/>
<circle cx="535.2" cy="155.2" r="3.2" fill="#00B050"/>
<circle cx="517.8" cy="176.5" r="3.2" fill="#00B050"/>
<circle cx="515.1" cy="184.6" r="3.2" fill="#00B050"/>
<circle cx="508.3" cy="181.9" r="3.2" fill="#00B050"/>
<circle cx="501.0" cy="185.9" r="3.2" fill="#00B050"/>
<circle cx="504.3" cy="192.6" r="3.2" fill="#00B050"/>
<circle cx="498.9" cy="192.6" r="3.2" fill="#00B050"/>
<circle cx="497.6" cy="200.7" r="3.2" fill="#00B050"/>
<circle cx="511.7" cy="200.7" r="3.2" fill="#00B050"/>
<circle cx="514.0" cy="202.5" r="3.2" fill="#00B050"/>
<circle cx="516.4" cy="204.1" r="3.2" fill="#00B050"/>
<circle cx="493.0" cy="203.5" r="3.2" fill="#00B050"/>
<circle cx="502.0" cy="197.0" r="3.2" fill="#00B050"/>
<line x1="449" y1="196.9" x2="459.7" y2="196.9" stroke="#fff" stroke-width="1"/>
<line x1="466" y1="196.9" x2="469.6" y2="196.9" stroke="#fff" stroke-width="1"/>
<line x1="483" y1="196.9" x2="495.6" y2="196.9" stroke="#fff" stroke-width="1"/>
<line x1="493.5" y1="190.6" x2="493.5" y2="196.9" stroke="#fff" stroke-width="1"/>
<circle cx="479.9" cy="192.4" r="0.8" fill="#fff"/>
<polygon points="435.9,183.8 446.3,170.0 468.6,150.0 500.0,124.4 519.4,106.0 543.7,85.5 548.6,80.7 554.4,75.8 558.0,73.5 560.0,86.0 558.3,97.2 555.4,101.1 550.5,103.0 545.7,106.9 536.9,112.8 533.2,117.9 521.1,130.0 496.9,150.0 480.0,163.6 470.5,170.0 452.0,188.5 440.7,197.5 437.0,199.5" fill="#BFBFBF" />
<circle cx="630.4" cy="17.5" r="3.2" fill="#BFBFBF"/>
<circle cx="624.5" cy="24.2" r="3.2" fill="#BFBFBF"/>
<circle cx="615.3" cy="34.2" r="3.2" fill="#BFBFBF"/>
<circle cx="612.3" cy="36.2" r="3.2" fill="#BFBFBF"/>
<circle cx="613.3" cy="40.5" r="3.2" fill="#BFBFBF"/>
<circle cx="610.4" cy="44.4" r="3.2" fill="#BFBFBF"/>
<circle cx="608.9" cy="39.6" r="3.2" fill="#BFBFBF"/>
<circle cx="603.6" cy="39.6" r="3.2" fill="#BFBFBF"/>
<circle cx="602.6" cy="42.5" r="3.2" fill="#BFBFBF"/>
<circle cx="600.7" cy="45.4" r="3.2" fill="#BFBFBF"/>
<circle cx="596.8" cy="46.9" r="3.2" fill="#BFBFBF"/>
<circle cx="594.8" cy="48.8" r="3.2" fill="#BFBFBF"/>
<circle cx="596.8" cy="52.2" r="3.2" fill="#BFBFBF"/>
<circle cx="593.9" cy="54.2" r="3.2" fill="#BFBFBF"/>
<circle cx="589.0" cy="52.2" r="3.2" fill="#BFBFBF"/>
<circle cx="586.1" cy="54.2" r="3.2" fill="#BFBFBF"/>
<circle cx="581.2" cy="52.7" r="3.2" fill="#BFBFBF"/>
<circle cx="583.2" cy="57.1" r="3.2" fill="#BFBFBF"/>
<circle cx="589.0" cy="57.1" r="3.2" fill="#BFBFBF"/>
<circle cx="590.0" cy="62.9" r="3.2" fill="#BFBFBF"/>
<circle cx="587.1" cy="64.8" r="3.2" fill="#BFBFBF"/>
<circle cx="584.2" cy="66.8" r="3.2" fill="#BFBFBF"/>
<circle cx="581.2" cy="67.8" r="3.2" fill="#BFBFBF"/>
<circle cx="577.4" cy="62.9" r="3.2" fill="#BFBFBF"/>
<circle cx="575.4" cy="65.8" r="3.2" fill="#BFBFBF"/>
<circle cx="579.3" cy="69.7" r="3.2" fill="#BFBFBF"/>
<circle cx="567.6" cy="63.9" r="3.2" fill="#BFBFBF"/>
<circle cx="569.6" cy="66.8" r="3.2" fill="#BFBFBF"/>
<circle cx="572.5" cy="68.7" r="3.2" fill="#BFBFBF"/>
<circle cx="567.6" cy="70.7" r="3.2" fill="#BFBFBF"/>
<circle cx="564.7" cy="70.7" r="3.2" fill="#BFBFBF"/>
<circle cx="578.3" cy="78.0" r="3.2" fill="#BFBFBF"/>
<circle cx="571.5" cy="71.6" r="3.2" fill="#BFBFBF"/>
<circle cx="562.8" cy="74.6" r="3.2" fill="#BFBFBF"/>
<circle cx="558.9" cy="75.5" r="3.2" fill="#BFBFBF"/>
<circle cx="560.8" cy="79.4" r="3.2" fill="#BFBFBF"/>
<circle cx="566.7" cy="75.5" r="3.2" fill="#BFBFBF"/>
<circle cx="574.4" cy="73.6" r="3.2" fill="#BFBFBF"/>
<circle cx="557.0" cy="81.4" r="3.2" fill="#BFBFBF"/>
<circle cx="562.8" cy="83.3" r="3.2" fill="#BFBFBF"/>
<circle cx="564.7" cy="85.3" r="3.2" fill="#BFBFBF"/>
<circle cx="555.0" cy="85.3" r="3.2" fill="#BFBFBF"/>
<circle cx="560.8" cy="87.2" r="3.2" fill="#BFBFBF"/>
<circle cx="555.9" cy="99.2" r="3.2" fill="#BFBFBF"/>
<circle cx="559.0" cy="94.0" r="3.2" fill="#BFBFBF"/>
<circle cx="418.2" cy="188.5" r="3.2" fill="#BFBFBF"/>
<circle cx="421.6" cy="189.5" r="3.2" fill="#BFBFBF"/>
<circle cx="421.6" cy="193.9" r="3.2" fill="#BFBFBF"/>
<circle cx="421.6" cy="198.7" r="3.2" fill="#BFBFBF"/>
<circle cx="422.2" cy="200.5" r="3.2" fill="#BFBFBF"/>
<circle cx="419.0" cy="201.0" r="3.2" fill="#BFBFBF"/>
<circle cx="418.5" cy="196.0" r="3.2" fill="#BFBFBF"/>
<circle cx="429.9" cy="192.7" r="3.2" fill="#BFBFBF"/>
<circle cx="430.5" cy="198.7" r="3.2" fill="#BFBFBF"/>
<circle cx="429.9" cy="201.5" r="3.2" fill="#BFBFBF"/>
<circle cx="434.7" cy="186.7" r="3.2" fill="#BFBFBF"/>
<circle cx="433.0" cy="190.0" r="3.2" fill="#BFBFBF"/>
<circle cx="433.5" cy="196.0" r="3.2" fill="#BFBFBF"/>
<circle cx="432.0" cy="203.0" r="3.2" fill="#BFBFBF"/>
<circle cx="521.1" cy="132" r="2.6" fill="none" stroke="#9fb8a8" stroke-width="0.6"/>
<circle cx="106.7" cy="11.7" r="3.4" fill="#FF0000"/>
<text x="114" y="16.8" font-size="14.7" fill="#1a1a1a">Up</text>
<circle cx="151.6" cy="11.7" r="4" fill="#00B050"/>
<text x="158.7" y="16.8" font-size="14.7" fill="#1a1a1a">Down</text>
<circle cx="214.3" cy="11.7" r="3.4" fill="#A5A5A5"/>
<text x="221" y="16.8" font-size="14.7" fill="#1a1a1a">No</text>
<circle cx="459.4" cy="12.3" r="3.1" fill="#BFBFBF"/>
<text x="465.8" y="17.3" font-size="14.2" fill="#1a1a1a">No</text>
<circle cx="502" cy="12.3" r="3.1" fill="#FF0000"/>
<text x="508.6" y="17.3" font-size="14.2" fill="#1a1a1a">Up</text>
<circle cx="544.6" cy="12.3" r="3.1" fill="#00B050"/>
<text x="551.8" y="17.3" font-size="14.2" fill="#1a1a1a">down</text>
</svg>
</body></html>
